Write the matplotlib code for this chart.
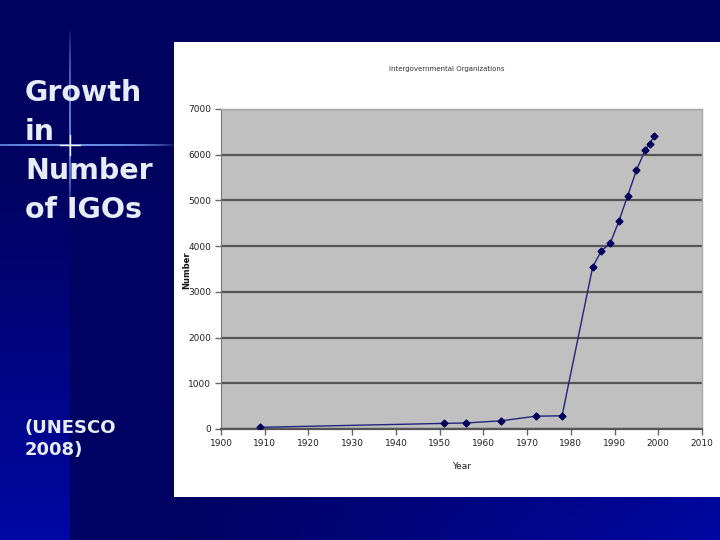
import numpy as np
import matplotlib
matplotlib.use('Agg')
import matplotlib.pyplot as plt
from matplotlib.patches import Rectangle

# data
years = [1909, 1951, 1956, 1964, 1972, 1978, 1985, 1987, 1989, 1991, 1993, 1995, 1997, 1998, 1999]
counts = [37, 123, 132, 179, 280, 289, 3546, 3900, 4060, 4550, 5100, 5660, 6100, 6230, 6400]
x_ticks = list(range(1900, 2011, 10))
y_ticks = list(range(0, 7001, 1000))

slide_title = "Growth\nin\nNumber\nof IGOs"
source_note = "(UNESCO\n2008)"
chart_title = "Intergovernmental Organizations"

narrow = ['Liberation Sans Narrow', 'DejaVu Sans']

fig = plt.figure(figsize=(7.2, 5.4), dpi=100)

# slide background: navy, brighter blue towards the bottom left band and bottom right
W, H = 720, 540
xx, yy = np.meshgrid(np.arange(W), np.arange(H))
t = np.clip((yy - 180) / 360.0, 0, 1)
band = np.where(xx < 70, 1.0, np.where(xx < 174, 0.05, (xx - 174) / 546.0))
blue = 0.38 + 0.26 * t * band
bg = np.dstack([np.zeros_like(blue), 0.01 + 0.02 * t * band, blue])
bg_ax = fig.add_axes([0, 0, 1, 1])
bg_ax.imshow(bg, extent=[0, W, H, 0], aspect='auto')
bg_ax.set_xlim(0, W)
bg_ax.set_ylim(H, 0)
bg_ax.axis('off')

# lens flare cross, brighter towards the centre
for i in range(40):
    f = 1 - i / 40.0
    bg_ax.plot([70 - 105 * f ** 0.6, 70 + 105 * f ** 0.6], [145, 145],
               color='#7fa8ff', lw=1.4, alpha=0.06)
    bg_ax.plot([70, 70], [145 - 115 * f ** 0.6, 145 + 60 * f ** 0.6],
               color='#7fa8ff', lw=1.1, alpha=0.05)
bg_ax.plot([60, 80], [145, 145], color='white', lw=1.0, alpha=0.9)
bg_ax.plot([70, 70], [135, 155], color='white', lw=1.0, alpha=0.9)

# slide text
fig.text(25 / W, 1 - 79 / H, slide_title, color='#e8ecf6', fontsize=20.5, fontweight='bold',
         family='DejaVu Sans', va='top', ha='left', linespacing=1.5)
fig.text(25 / W, 1 - 419 / H, source_note, color='#e8ecf6', fontsize=13, fontweight='bold',
         family='DejaVu Sans', va='top', ha='left', linespacing=1.27)

# white chart panel
fig.patches.append(Rectangle((174 / W, 1 - 497 / H), 546 / W, 455 / H, transform=fig.transFigure,
                             facecolor='white', edgecolor='none', zorder=1))

ax = fig.add_axes([221 / W, 1 - 429 / H, 481 / W, 320 / H], zorder=2)
ax.set_facecolor('#c0c0c0')
ax.plot(years, counts, color='#23237e', lw=1.0, marker='D', markersize=3.5,
        markerfacecolor='#00005a', markeredgecolor='#00005a', zorder=3)
ax.set_xlim(1900, 2010)
ax.set_ylim(0, 7000)
ax.set_xticks(x_ticks)
ax.set_yticks(y_ticks)
ax.set_xticklabels([str(v) for v in x_ticks], family=narrow, fontsize=6.5, color='#222222')
ax.set_yticklabels([str(v) for v in y_ticks], family=narrow, fontsize=6.5, color='#222222')
ax.yaxis.grid(True, color='#555555', lw=1.6)
ax.set_axisbelow(True)
ax.tick_params(axis='both', direction='out', length=4, width=1, color='#666666', pad=3)
for side in ['top', 'right']:
    ax.spines[side].set_color('#a8a8a8')
    ax.spines[side].set_linewidth(1)
ax.spines['left'].set_color('#777777')
ax.spines['bottom'].set_color('#555555')
ax.spines['bottom'].set_linewidth(1.6)

ax.set_xlabel('Year', family=narrow, fontsize=6.5, color='#222222', labelpad=10)
ax.set_ylabel('Number', family='DejaVu Sans', fontsize=6, fontweight='bold', color='#111111')
ax.yaxis.set_label_coords(-0.062, 0.497)
fig.text(447 / W, 1 - 69 / H, chart_title, family=narrow, fontsize=5, color='#333333',
         ha='center', va='center', zorder=3)

fig.savefig('out.png', dpi=100)
